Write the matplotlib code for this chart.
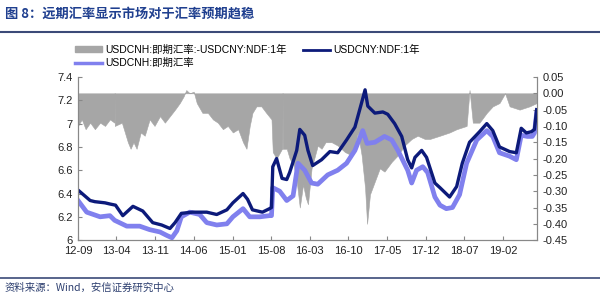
import matplotlib
matplotlib.use("Agg")
import matplotlib.pyplot as plt
import matplotlib.dates as mdates
from matplotlib.patches import Patch
from matplotlib.lines import Line2D
import pandas as pd

plt.rcParams['font.family'] = ['Liberation Sans', 'Noto Sans CJK SC', 'DejaVu Sans']

# USDCNY NDF 1Y (left axis)
ndf_dates = ["2012-09-01", "2012-11-07", "2012-12-03", "2013-01-28", "2013-02-24", "2013-03-27",
             "2013-05-06", "2013-07-01", "2013-08-24", "2013-10-18", "2013-12-06", "2014-01-21",
             "2014-02-18", "2014-03-25", "2014-05-25", "2014-08-12", "2014-10-06", "2014-12-01",
             "2015-01-03", "2015-02-28", "2015-03-25", "2015-04-21", "2015-06-15", "2015-07-24",
             "2015-08-04", "2015-08-11", "2015-09-01", "2015-10-01", "2015-10-27", "2015-11-12",
             "2015-12-21", "2016-01-07", "2016-02-03", "2016-02-21", "2016-03-18", "2016-05-06",
             "2016-06-21", "2016-08-03", "2016-09-21", "2016-11-06", "2016-12-13", "2017-01-01",
             "2017-01-16", "2017-02-24", "2017-04-09", "2017-05-06", "2017-06-13", "2017-07-22",
             "2017-08-24", "2017-09-15", "2017-10-03", "2017-11-09", "2017-12-06", "2018-01-21",
             "2018-02-18", "2018-04-12", "2018-05-21", "2018-06-21", "2018-07-31", "2018-09-24",
             "2018-11-03", "2018-12-06", "2019-01-12", "2019-03-09", "2019-04-15", "2019-05-12",
             "2019-06-09", "2019-07-06", "2019-07-24", "2019-08-05"]
ndf = [6.43, 6.34, 6.33, 6.32, 6.31, 6.30,
       6.21, 6.29, 6.25, 6.15, 6.13, 6.10,
       6.15, 6.23, 6.24, 6.24, 6.22, 6.26,
       6.32, 6.40, 6.35, 6.26, 6.24, 6.27,
       6.28, 6.63, 6.70, 6.53, 6.52, 6.58,
       6.77, 6.95, 6.90, 6.77, 6.64, 6.69,
       6.76, 6.75, 6.86, 6.97, 7.18, 7.29,
       7.15, 7.09, 7.10, 7.08, 7.00, 6.89,
       6.69, 6.62, 6.71, 6.77, 6.71, 6.49,
       6.45, 6.37, 6.46, 6.66, 6.84, 6.93,
       7.00, 6.94, 6.80, 6.76, 6.75, 6.96,
       6.92, 6.93, 6.95, 7.12]

# USDCNH spot (left axis)
cnh_dates = ["2012-09-01", "2012-10-19", "2013-01-01", "2013-02-24", "2013-03-22", "2013-05-28",
             "2013-08-07", "2013-10-01", "2013-11-27", "2014-01-04", "2014-02-01", "2014-02-28",
             "2014-03-25", "2014-05-10", "2014-07-04", "2014-08-12", "2014-10-06", "2014-12-01",
             "2015-01-03", "2015-02-28", "2015-04-06", "2015-06-01", "2015-07-24", "2015-08-04",
             "2015-08-11", "2015-09-18", "2015-10-27", "2015-12-01", "2015-12-28", "2016-02-03",
             "2016-03-12", "2016-04-15", "2016-06-09", "2016-08-03", "2016-09-21", "2016-11-06",
             "2016-12-19", "2017-01-12", "2017-02-24", "2017-04-18", "2017-05-28", "2017-07-01",
             "2017-08-24", "2017-09-15", "2017-10-12", "2017-11-15", "2017-12-12", "2018-01-21",
             "2018-02-18", "2018-03-25", "2018-04-28", "2018-06-06", "2018-07-15", "2018-09-09",
             "2018-11-03", "2018-12-06", "2019-01-12", "2019-03-09", "2019-04-15", "2019-05-12",
             "2019-06-15", "2019-07-12", "2019-07-24", "2019-08-05"]
cnh = [6.34, 6.24, 6.20, 6.21, 6.17, 6.12,
       6.12, 6.09, 6.07, 6.04, 6.02, 6.08,
       6.20, 6.24, 6.22, 6.15, 6.13, 6.14,
       6.20, 6.27, 6.20, 6.20, 6.21, 6.21,
       6.45, 6.42, 6.34, 6.38, 6.66, 6.60,
       6.49, 6.48, 6.56, 6.60, 6.66, 6.77,
       6.94, 6.83, 6.84, 6.89, 6.86, 6.77,
       6.60, 6.49, 6.60, 6.63, 6.58, 6.37,
       6.30, 6.27, 6.28, 6.39, 6.66, 6.86,
       6.94, 6.89, 6.75, 6.72, 6.69, 6.90,
       6.89, 6.89, 6.92, 7.09]

# spread USDCNH - NDF 1Y (right axis)
spr_dates = ["2012-09-01", "2012-09-22", "2012-10-13", "2012-11-07", "2012-12-03", "2013-01-01",
             "2013-01-28", "2013-02-24", "2013-03-21", "2013-03-22", "2013-03-23", "2013-05-01",
             "2013-06-03", "2013-06-18", "2013-07-04", "2013-07-21", "2013-08-13", "2013-09-04",
             "2013-10-01", "2013-10-28", "2013-11-27", "2013-12-24", "2014-01-21", "2014-02-18",
             "2014-03-16", "2014-04-06", "2014-04-21", "2014-05-10", "2014-06-01", "2014-06-18",
             "2014-07-19", "2014-08-18", "2014-09-15", "2014-10-12", "2014-11-09", "2014-12-06",
             "2015-01-03", "2015-02-01", "2015-02-28", "2015-03-19", "2015-04-06", "2015-04-21",
             "2015-05-13", "2015-06-09", "2015-07-06", "2015-08-04", "2015-08-11", "2015-09-01",
             "2015-10-01", "2015-10-03", "2015-10-04", "2015-10-05", "2015-10-27", "2015-11-12",
             "2015-12-04", "2015-12-21", "2016-01-07", "2016-01-25", "2016-02-09", "2016-02-21",
             "2016-03-12", "2016-04-15", "2016-05-06", "2016-05-28", "2016-07-01", "2016-08-03",
             "2016-09-12", "2016-10-19", "2016-11-06", "2016-11-22", "2016-12-13", "2017-01-01",
             "2017-01-12", "2017-01-28", "2017-02-24", "2017-03-23", "2017-04-18", "2017-05-28",
             "2017-07-01", "2017-08-07", "2017-09-15", "2017-10-18", "2017-11-27", "2017-12-24",
             "2018-02-18", "2018-04-12", "2018-05-21", "2018-07-15", "2018-07-31", "2018-08-18",
             "2018-09-24", "2018-11-03", "2018-12-06", "2019-01-12", "2019-02-12", "2019-03-09",
             "2019-05-03", "2019-06-27", "2019-08-05"]
spread = [-0.10, -0.08, -0.11, -0.09, -0.11, -0.09,
          -0.10, -0.08, -0.09, 0.00, -0.10, -0.09,
          -0.15, -0.17, -0.15, -0.17, -0.12, -0.13,
          -0.08, -0.10, -0.07, -0.09, -0.07, -0.05,
          -0.03, -0.01, 0.01, 0.00, 0.005, -0.03,
          -0.06, -0.06, -0.08, -0.09, -0.11, -0.10,
          -0.12, -0.11, -0.15, -0.17, -0.10, -0.06,
          -0.04, -0.04, -0.06, -0.08, -0.18, -0.20,
          -0.17, -0.17, 0.00, -0.17, -0.17, -0.20,
          -0.22, -0.27, -0.35, -0.28, -0.32, -0.34,
          -0.23, -0.16, -0.17, -0.15, -0.15, -0.16,
          -0.18, -0.19, -0.16, -0.12, -0.19, -0.29,
          -0.40, -0.31, -0.27, -0.23, -0.24, -0.21,
          -0.19, -0.16, -0.14, -0.13, -0.14, -0.14,
          -0.13, -0.12, -0.11, -0.10, 0.01, -0.09,
          -0.09, -0.06, -0.04, -0.03, 0.00, -0.04,
          -0.05, -0.04, -0.03]

tick_dates = ["2012-09-01", "2013-04-01", "2013-11-01", "2014-06-01", "2015-01-01", "2015-08-01",
              "2016-03-01", "2016-10-01", "2017-05-01", "2017-12-01", "2018-07-01", "2019-02-01"]

navy = "#0c1a7a"
lilac = "#8080ee"
grey = "#a6a6a6"

fig = plt.figure(figsize=(6, 2.95), dpi=100)
ax = fig.add_axes([0.13, 0.186, 0.765, 0.553])
ax2 = ax.twinx()

ax2.fill_between(pd.to_datetime(spr_dates), spread, 0, color=grey, linewidth=0.4, edgecolor=grey)
ax.plot(pd.to_datetime(cnh_dates), cnh, color=lilac, linewidth=3.4)
ax.plot(pd.to_datetime(ndf_dates), ndf, color=navy, linewidth=2.4)

ax.set_zorder(ax2.get_zorder() + 1)
ax.patch.set_visible(False)

ax.set_xlim(pd.Timestamp("2012-09-01"), pd.Timestamp("2019-08-07"))
ax.set_ylim(6, 7.4)
ax.set_yticks([6, 6.2, 6.4, 6.6, 6.8, 7, 7.2, 7.4])
ax.set_yticklabels(["6", "6.2", "6.4", "6.6", "6.8", "7", "7.2", "7.4"])
ax2.set_ylim(-0.45, 0.05)
ax2.set_yticks([0.05, 0, -0.05, -0.1, -0.15, -0.2, -0.25, -0.3, -0.35, -0.4, -0.45])
ax2.set_yticklabels(["%.2f" % v for v in [0.05, 0, -0.05, -0.1, -0.15, -0.2, -0.25, -0.3, -0.35, -0.4, -0.45]])
ax.set_xticks(pd.to_datetime(tick_dates))
ax.xaxis.set_major_formatter(mdates.DateFormatter("%y-%m"))

for a in (ax, ax2):
    a.spines['top'].set_visible(False)
    for s in ('left', 'right', 'bottom'):
        a.spines[s].set_color("#888888")
        a.spines[s].set_linewidth(0.8)
    a.tick_params(direction='in', length=3, width=0.8, color="#888888",
                  labelsize=8, labelcolor="#222222", pad=4)

# legend
handles = [Patch(color=grey, label="USDCNH:即期汇率:-USDCNY:NDF:1年"),
           Line2D([], [], color=lilac, linewidth=2.5, label="USDCNH:即期汇率"),
           Line2D([], [], color=navy, linewidth=2, label="USDCNY:NDF:1年")]
fig.legend(handles=handles, ncol=2, loc='upper left', bbox_to_anchor=(0.11, 0.88),
           frameon=False, fontsize=7.5, handlelength=2.6, handleheight=0.5,
           handletextpad=0.3, columnspacing=1.5, labelspacing=0.3)

# title and source
fig.text(0.008, 0.955, "图 8：远期汇率显示市场对于汇率预期趋稳", fontsize=9.5, fontweight='bold',
         color="#1f3f8f", va='center', family=['Noto Sans CJK SC'])
fig.add_artist(Line2D([0, 1], [0.892, 0.892], color="#3b4a78", linewidth=1.5))
fig.add_artist(Line2D([0, 1], [0.058, 0.058], color="#3b4a78", linewidth=1.2))
fig.text(0.008, 0.025, "资料来源：Wind，安信证券研究中心", fontsize=7.5, style='italic',
         color="#2d3f6f", va='center', family=['Noto Sans CJK SC', 'Liberation Sans'])

fig.savefig("out.png", dpi=100)
